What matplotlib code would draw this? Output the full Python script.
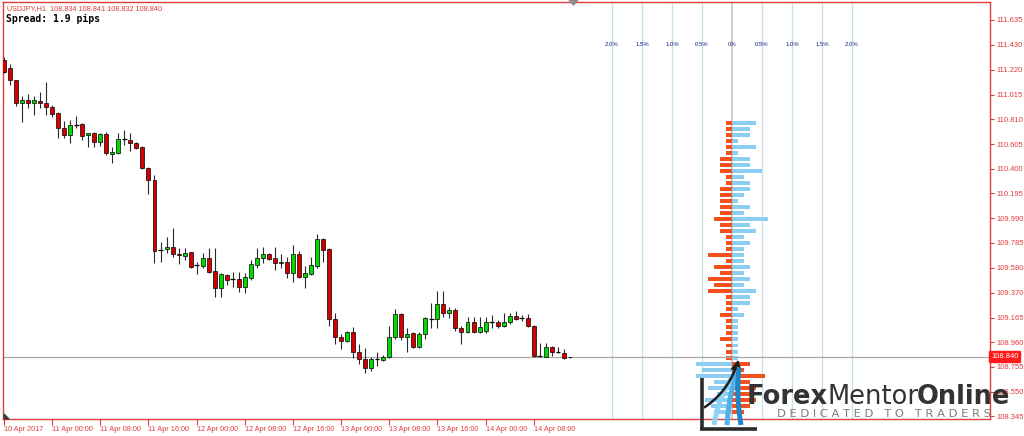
import matplotlib
matplotlib.use("Agg")
import matplotlib.pyplot as plt
import numpy as np
from matplotlib.patches import Polygon
from matplotlib.transforms import blended_transform_factory

plt.rcParams['font.family'] = ['Liberation Sans', 'DejaVu Sans']

# USDJPY H1 candles, 10 Apr 16:00 -> 14 Apr 14:00
opens = [111.303, 111.237, 111.137, 110.946, 110.971, 110.946, 110.963, 110.946, 110.913, 110.863,
         110.739, 110.680, 110.763, 110.772, 110.680, 110.697, 110.622, 110.689, 110.523, 110.531,
         110.647, 110.639, 110.614, 110.581, 110.407, 110.307, 109.726, 109.734, 109.751, 109.693,
         109.676, 109.709, 109.601, 109.593, 109.660, 109.552, 109.411, 109.518, 109.485, 109.485,
         109.419, 109.494, 109.601, 109.660, 109.693, 109.660, 109.618, 109.626, 109.535, 109.693,
         109.502, 109.527, 109.593, 109.817, 109.734, 109.153, 109.004, 108.971, 109.045, 108.879,
         108.821, 108.747, 108.821, 108.813, 108.838, 109.004, 109.195, 109.004, 109.037, 108.921,
         109.029, 109.153, 109.153, 109.278, 109.203, 109.228, 109.079, 109.045, 109.128, 109.045,
         109.054, 109.128, 109.128, 109.095, 109.128, 109.178, 109.162, 109.162, 109.095, 108.846,
         108.838, 108.921, 108.879, 108.871, 108.834]
highs = [111.328, 111.270, 111.140, 111.004, 111.021, 111.004, 111.037, 111.120, 110.930, 110.871,
         110.797, 110.805, 110.838, 110.780, 110.697, 110.705, 110.697, 110.705, 110.581, 110.697,
         110.722, 110.697, 110.622, 110.585, 110.415, 110.349, 109.792, 109.834, 109.909, 109.743,
         109.743, 109.712, 109.626, 109.701, 109.743, 109.743, 109.535, 109.527, 109.543, 109.543,
         109.535, 109.643, 109.743, 109.751, 109.701, 109.751, 109.693, 109.668, 109.767, 109.718,
         109.593, 109.668, 109.859, 109.826, 109.740, 109.203, 109.029, 109.054, 109.087, 108.946,
         108.913, 108.838, 108.879, 108.855, 109.095, 109.236, 109.203, 109.079, 109.045, 109.045,
         109.170, 109.286, 109.386, 109.386, 109.253, 109.245, 109.095, 109.170, 109.170, 109.170,
         109.170, 109.186, 109.145, 109.203, 109.203, 109.220, 109.186, 109.195, 109.104, 108.954,
         108.954, 108.929, 108.921, 108.904, 108.841]
lows = [111.195, 111.096, 110.921, 110.788, 110.905, 110.846, 110.905, 110.846, 110.830, 110.656,
        110.656, 110.614, 110.739, 110.639, 110.581, 110.581, 110.589, 110.515, 110.448, 110.523,
        110.598, 110.548, 110.564, 110.400, 110.191, 109.618, 109.626, 109.701, 109.668, 109.610,
        109.643, 109.580, 109.527, 109.577, 109.535, 109.336, 109.336, 109.436, 109.419, 109.377,
        109.369, 109.477, 109.577, 109.618, 109.643, 109.560, 109.577, 109.494, 109.460, 109.494,
        109.411, 109.518, 109.577, 109.626, 109.095, 108.946, 108.904, 108.962, 108.830, 108.780,
        108.705, 108.722, 108.763, 108.805, 108.830, 108.987, 108.979, 108.879, 108.915, 108.913,
        108.987, 109.079, 109.079, 109.170, 109.162, 109.054, 108.946, 109.037, 109.037, 109.037,
        109.037, 109.079, 109.079, 109.087, 109.112, 109.145, 109.137, 109.087, 108.840, 108.838,
        108.838, 108.846, 108.871, 108.821, 108.832]
closes = [111.203, 111.137, 110.946, 110.971, 110.946, 110.971, 110.946, 110.913, 110.855, 110.739,
          110.680, 110.763, 110.760, 110.672, 110.697, 110.622, 110.689, 110.531, 110.539, 110.647,
          110.647, 110.614, 110.573, 110.407, 110.307, 109.718, 109.722, 109.751, 109.693, 109.685,
          109.701, 109.585, 109.601, 109.660, 109.543, 109.411, 109.527, 109.477, 109.485, 109.419,
          109.502, 109.610, 109.660, 109.693, 109.651, 109.618, 109.626, 109.535, 109.693, 109.502,
          109.535, 109.601, 109.817, 109.726, 109.153, 109.004, 108.971, 109.045, 108.879, 108.821,
          108.747, 108.821, 108.821, 108.838, 109.004, 109.195, 109.004, 109.029, 108.921, 109.029,
          109.162, 109.155, 109.278, 109.203, 109.228, 109.079, 109.045, 109.128, 109.045, 109.087,
          109.128, 109.130, 109.095, 109.128, 109.178, 109.153, 109.160, 109.095, 108.846, 108.846,
          108.921, 108.879, 108.879, 108.830, 108.840]

time_label_bars = [0, 8, 16, 24, 32, 40, 48, 56, 64, 72, 80, 88]
time_labels = ["10 Apr 2017", "11 Apr 00:00", "11 Apr 08:00", "11 Apr 16:00", "12 Apr 00:00",
               "12 Apr 08:00", "12 Apr 16:00", "13 Apr 00:00", "13 Apr 08:00", "13 Apr 16:00",
               "14 Apr 00:00", "14 Apr 08:00"]
price_ticks = [111.635, 111.430, 111.220, 111.015, 110.810, 110.605, 110.400, 110.195, 109.990,
               109.785, 109.580, 109.370, 109.165, 108.960, 108.755, 108.550, 108.345]
last_price = 108.840

# order book (percent of positions per 5 pip bucket)
book_top_level = 110.783
orange_above = [0.1, 0.1, 0.1, 0.1, 0.1, 0.1, 0.2, 0.2, 0.2, 0.1,
                0.1, 0.2, 0.2, 0.2, 0.2, 0.2, 0.3, 0.2, 0.2, 0.1,
                0.1, 0.1, 0.4, 0.1, 0.3, 0.2, 0.4, 0.3, 0.4, 0.1,
                0.1, 0.1, 0.2, 0.1, 0.1, 0.1, 0.2, 0.1, 0.1, 0.1]
blue_above = [0.4, 0.3, 0.3, 0.1, 0.4, 0.1, 0.3, 0.3, 0.5, 0.2,
              0.3, 0.3, 0.2, 0.1, 0.3, 0.2, 0.6, 0.3, 0.4, 0.2,
              0.3, 0.2, 0.2, 0.2, 0.3, 0.2, 0.3, 0.2, 0.4, 0.3,
              0.3, 0.1, 0.2, 0.1, 0.1, 0.1, 0.1, 0.1, 0.1, 0.1]
blue_below = [0.6, 0.5, 0.6, 0.3, 0.4, 0.25, 0.45, 0.35, 0.3]
orange_below = [0.3, 0.2, 0.55, 0.3, 0.4, 0.3, 0.4, 0.3, 0.2]
pct_ticks = [-2.0, -1.5, -1.0, -0.5, 0.0, 0.5, 1.0, 1.5, 2.0]
pct_labels = ["2.0%", "1.5%", "1.0%", "0.5%", "0%", "0.5%", "1.0%", "1.5%", "2.0%"]

W, H = 1024, 436
RED = '#e23b3b'
BULL = '#00dc00'
BEAR = '#d40000'
ORANGE = '#f4511e'
BLUE = '#8ccdf2'

fig = plt.figure(figsize=(W / 100, H / 100), dpi=100)
rect = [3 / W, 1 - 419 / H, 987 / W, 417 / H]
ax = fig.add_axes(rect)
ax.set_zorder(2)
ax.patch.set_visible(False)

x = np.arange(len(opens))
o = np.array(opens); h = np.array(highs); l = np.array(lows); c = np.array(closes)
doji = np.abs(c - o) < 0.005
up = (c > o) & ~doji
down = (c < o) & ~doji

ax.vlines(x, l, h, color='#2a2a2a', lw=0.8, zorder=2)
ax.bar(x[up], (c - o)[up], bottom=o[up], width=0.66, color=BULL, edgecolor='black', lw=0.5, zorder=3)
ax.bar(x[down], (o - c)[down], bottom=c[down], width=0.66, color=BEAR, edgecolor='black', lw=0.5, zorder=3)
ax.hlines(o[doji], x[doji] - 0.38, x[doji] + 0.38, color='black', lw=0.9, zorder=3)

ax.axhline(last_price, color='#a9a9a9', lw=0.9, zorder=1)

ax.set_xlim(-0.166, 163.8)
ax.set_ylim(108.323, 111.784)
for s in ax.spines.values():
    s.set_color(RED)
    s.set_linewidth(1.0)

ax.yaxis.tick_right()
ax.set_yticks(price_ticks)
ax.set_yticklabels(['%.3f' % p for p in price_ticks])
ax.set_xticks(time_label_bars)
ax.set_xticklabels(time_labels, ha='left')
ax.tick_params(axis='y', colors=RED, labelsize=5.5, length=3, width=0.8, pad=2)
ax.tick_params(axis='x', colors=RED, labelsize=5.2, length=4, width=0.8, pad=1)

trans = blended_transform_factory(ax.transAxes, ax.transData)
ax.text(1.0 + 1 / 987, last_price, '108.840', transform=trans, ha='left', va='center',
        fontsize=5.5, color='white', zorder=6,
        bbox=dict(boxstyle='square,pad=0.25', fc='#ff1a1a', ec='#ff1a1a'))

# order book panel behind the candles
ax2 = fig.add_axes(rect)
ax2.set_zorder(1)
ax2.set_xlim(-12.15, 4.3)
ax2.set_ylim(108.323, 111.784)
ax2.axis('off')
for p in pct_ticks:
    if p == 0:
        ax2.axvline(p, color='#c8c8c8', lw=1.3, zorder=1)
    else:
        ax2.axvline(p, color='#c2e2ec', lw=0.9, zorder=1)
for p, lab in zip(pct_ticks, pct_labels):
    ax2.text(p, 0.897, lab, transform=ax2.get_xaxis_transform(), ha='center', va='center',
             fontsize=4.3, color='#1c1c80')

levels_above = book_top_level - 0.05 * np.arange(len(orange_above))
levels_below = book_top_level - 0.05 * (len(orange_above) + np.arange(len(blue_below)))
bh = 0.033
ax2.barh(levels_above, -np.array(orange_above), height=bh, color=ORANGE, zorder=2)
ax2.barh(levels_above, blue_above, height=bh, color=BLUE, zorder=2)
ax2.barh(levels_below, -np.array(blue_below), height=bh, color=BLUE, zorder=2)
ax2.barh(levels_below, orange_below, height=bh, color=ORANGE, zorder=2)

# overlay in pixel coordinates: header texts and watermark
ov = fig.add_axes([0, 0, 1, 1])
ov.set_zorder(5)
ov.set_xlim(0, W)
ov.set_ylim(H, 0)
ov.axis('off')

ov.text(7, 8.5, 'USDJPY,H1  108.834 108.841 108.832 108.840', fontsize=5.2, color=RED, va='center')
ov.text(6, 18.5, 'Spread: 1.9 pips', fontsize=7, weight='bold', family='DejaVu Sans Mono',
        color='black', va='center')
ov.add_patch(Polygon([(569, 0), (578, 0), (573.5, 5)], closed=True, color='#8c8c8c'))
ov.add_patch(Polygon([(4, 419), (4, 414), (9, 419)], closed=True, color='#404040'))

# logo
ov.plot([701.5, 701.5], [378, 429.5], color='#2b2b2b', lw=2.6, solid_capstyle='butt')
ov.plot([700.2, 757], [428.5, 428.5], color='#2b2b2b', lw=2.6, solid_capstyle='butt')
t = np.linspace(0, 1, 40)


def bez(p0, p1, p2):
    bx = (1 - t) ** 2 * p0[0] + 2 * (1 - t) * t * p1[0] + t ** 2 * p2[0]
    by = (1 - t) ** 2 * p0[1] + 2 * (1 - t) * t * p1[1] + t ** 2 * p2[1]
    return bx, by


for p0, p1, col in [((714, 425), (720, 390), '#8fd2f6'),
                    ((727, 425), (729, 392), '#4fb0ea'),
                    ((741, 425), (736, 395), '#1f86c8')]:
    bx, by = bez(p0, p1, (739, 368))
    ov.plot(bx, by, color=col, lw=3.6, solid_capstyle='butt')
bx, by = bez((705, 407), (727, 392), (736, 367))
ov.plot(bx, by, color='#1e1e1e', lw=1.8)
ov.add_patch(Polygon([(738, 361), (731.5, 369), (740.5, 370)], closed=True, color='#1e1e1e'))

renderer = fig.canvas.get_renderer()
xpos = 747
for word, wt in [('Forex', 'bold'), ('Mentor', 'normal'), ('Online', 'bold')]:
    tt = ov.text(xpos, 404, word, fontsize=18.5, weight=wt, family='DejaVu Sans',
                 color='#333333', va='baseline', ha='left')
    xpos = tt.get_window_extent(renderer).x1 - 1

tagline = ov.text(777, 417, 'D E D I C A T E D   T O   T R A D E R S', fontsize=8.8,
                  family='DejaVu Sans', color='#7d7d7d', va='baseline', ha='left')
tw = tagline.get_window_extent(renderer).width
tagline.set_fontsize(8.8 * 214 / tw)

fig.savefig('out.png', dpi=100, facecolor='white')
